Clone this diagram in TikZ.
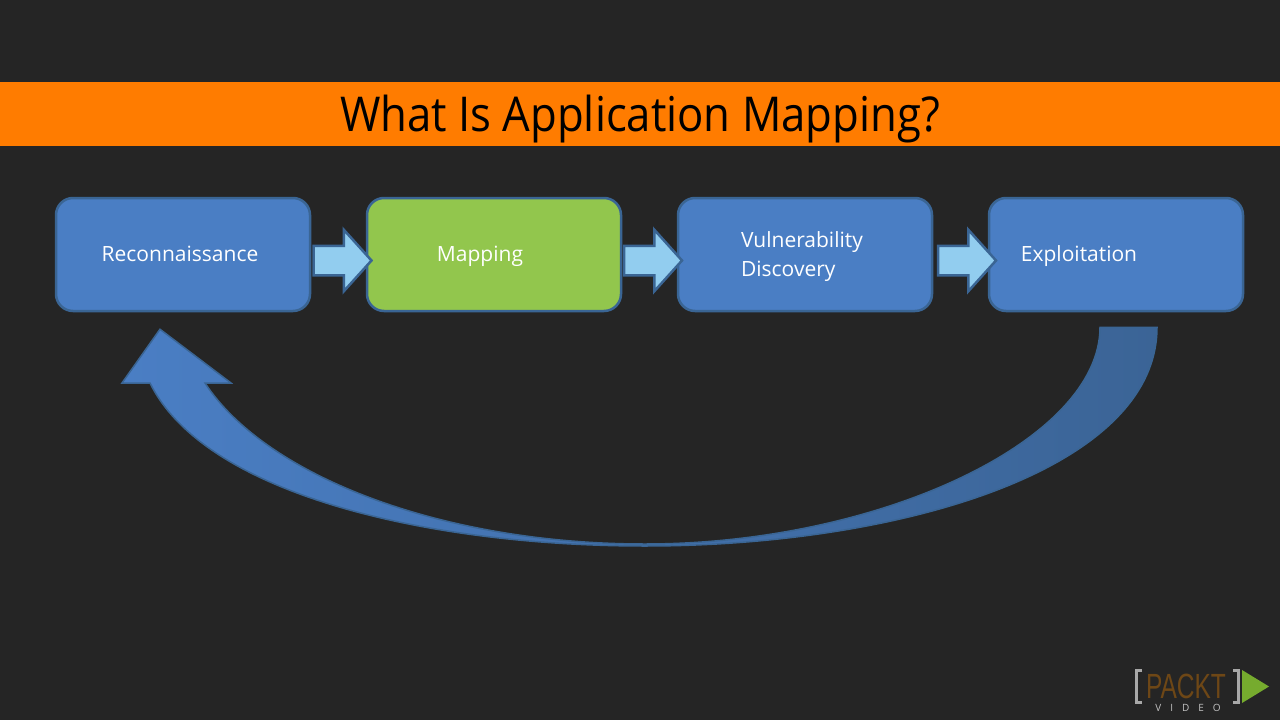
\documentclass[tikz,border=0pt]{standalone}
\usepackage{fontspec}
\setmainfont{Open Sans}
\newfontfamily\titlefont[FakeStretch=0.91]{Open Sans}
\newfontfamily\logofont[FakeStretch=0.7]{Liberation Sans}
\usetikzlibrary{
    shapes.arrows,
    positioning,
    calc
}
\definecolor{slidebg}{HTML}{252525}
\definecolor{banner}{HTML}{FF7C00}
\definecolor{boxblue}{HTML}{4A7EC4}
\definecolor{boxedge}{HTML}{3A6594}
\definecolor{boxgreen}{HTML}{92C64D}
\definecolor{arrowblue}{HTML}{92CDEF}
\definecolor{curvedark}{HTML}{3B6496}
\definecolor{logobrown}{HTML}{6E4716}
\definecolor{logogreen}{HTML}{76AB2E}
\definecolor{logogrey}{HTML}{A8A8A8}
\tikzset{%
    % Specifications for style of nodes:
    stage/.style = {
        rectangle, rounded corners=17pt, draw=boxedge, line width=2.5pt,
        minimum width=254pt, minimum height=113pt,
        inner sep=0pt, fill=boxblue
    },
    stagetext/.style = {font=\fontsize{21}{29}\selectfont, text=white, align=left, inner sep=0pt},
    active/.style = {stage, fill=boxgreen},
    flow/.style = {
        single arrow, draw=boxedge, line width=2.5pt, fill=arrowblue,
        minimum height=58pt, minimum width=60pt, inner sep=0pt, text height=27pt,
        single arrow head extend=16pt, single arrow tip angle=96
    }
}
\begin{document}
\begin{tikzpicture}[x=1pt,y=-1pt]
\useasboundingbox (0,0) rectangle (1280,720);
\fill[slidebg] (0,0) rectangle (1280,720);
\fill[banner] (0,82) rectangle (1280,146);
\node (title) [font=\titlefont\fontsize{48}{56}\selectfont, text=black] at (640,119) {What Is Application Mapping?};
% Specification of nodes (position, etc.)
\node (recon)   [stage, label={[stagetext,xshift=-3pt,yshift=1pt]center:Reconnaissance}] at (183,254.5) {};
\node (mapping) [active, right=54.5pt of recon, label={[stagetext,xshift=-14pt,yshift=-2pt]center:Mapping}] {};
\node (vuln)    [stage, right=54.5pt of mapping, label={[stagetext,xshift=-3pt,yshift=-2pt]center:Vulnerability\\Discovery}] {};
\node (exploit) [stage, right=54.5pt of vuln, label={[stagetext,xshift=-37pt,yshift=-2pt]center:Exploitation}] {};
\node (flow1)   [flow, anchor=west] at ($(recon.east)+(1,6)$) {};
\node (flow2)   [flow, anchor=west] at ($(mapping.east)+(0.5,6)$) {};
\node (flow3)   [flow, anchor=west] at ($(vuln.east)+(3.5,6)$) {};
% Specification of paths
\coordinate (tail) at ($(exploit.south)+(12.5,15)$);
\coordinate (tip) at ($(recon.south)+(-23,17)$);
\coordinate (low) at (645,546);
\coordinate (lowin) at (645,544);
\path[draw=boxedge, line width=1.5pt, left color=boxblue, middle color=boxblue, right color=curvedark]
    ($(tail)+(-28.5,0)$) -- ($(tail)+(28.5,0)$)
    .. controls (1157,470) and (900,546) .. (low)
    .. controls (430,546) and (205,495) .. (150,383)
    -- (122,383) -- (tip) -- (231,383) -- (205,383)
    .. controls (265,475) and (440,544) .. (lowin)
    .. controls (880,544) and (1100,440) .. ($(tail)+(-28.5,0)$) -- cycle;
% Logo
\draw[logogrey, line width=3pt] (1142,670.5) -- (1136.5,670.5) -- (1136.5,702.5) -- (1142,702.5);
\draw[logogrey, line width=3pt] (1233,670.5) -- (1238.5,670.5) -- (1238.5,702.5) -- (1233,702.5);
\node (packt) [font=\logofont\fontsize{35}{35}\selectfont, text=logobrown, inner sep=0pt] at (1186,686) {PACKT};
\node (video) [font=\fontsize{10}{10}\selectfont, text=logogrey!70!white, inner sep=0pt] at (1188,708) {V\hspace{9pt}I\hspace{9pt}D\hspace{9pt}E\hspace{9pt}O};
\fill[logogreen] (1242,670) -- (1269,686.5) -- (1242,703) -- cycle;
\end{tikzpicture}
\end{document}
